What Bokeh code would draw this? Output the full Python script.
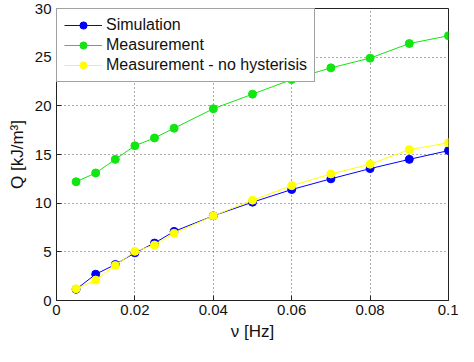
from bokeh.plotting import figure
from bokeh.models import Range1d, Legend, LegendItem, FixedTicker
from bokeh.embed import file_html
from bokeh.resources import INLINE

# ---- data ----
freq = [0.005, 0.01, 0.015, 0.02, 0.025, 0.03, 0.04, 0.05, 0.06, 0.07, 0.08, 0.09, 0.1]
simulation = [1.15, 2.7, 3.7, 4.9, 5.9, 7.1, 8.7, 10.1, 11.4, 12.5, 13.55, 14.5, 15.4]
measurement = [12.2, 13.1, 14.5, 15.9, 16.7, 17.7, 19.7, 21.2, 22.7, 23.9, 24.9, 26.4, 27.2]
measurement_no_hyst = [1.2, 2.1, 3.6, 5.05, 5.7, 6.9, 8.7, 10.3, 11.8, 13.0, 14.0, 15.5, 16.2]

series_names = ["Simulation", "Measurement", "Measurement - no hysterisis"]
series_colors = ["#0000ff", "#11e611", "#ffff00"]

x_ticks = [0, 0.02, 0.04, 0.06, 0.08, 0.1]
x_tick_labels = ["0", "0.02", "0.04", "0.06", "0.08", "0.1"]
y_ticks = [0, 5, 10, 15, 20, 25, 30]

FONT = "Liberation Sans"

p = figure(width=458, height=346, output_backend="svg", toolbar_location=None,
           x_range=Range1d(0, 0.1), y_range=Range1d(0, 30),
           min_border_left=56, min_border_right=10, min_border_top=8, min_border_bottom=46,
           background_fill_color="white", border_fill_color="white")

p.outline_line_color = "#222222"
p.outline_line_width = 1

# axes
for ax in (p.xaxis[0], p.yaxis[0]):
    ax.major_tick_in = 5
    ax.major_tick_out = 0
    ax.minor_tick_line_color = None
    ax.axis_line_color = "#222222"
    ax.major_tick_line_color = "#222222"
    ax.major_label_text_font = FONT
    ax.major_label_text_font_size = "15px"
    ax.major_label_text_color = "#111111"
    ax.axis_label_text_font = FONT
    ax.axis_label_text_font_size = "17px"
    ax.axis_label_text_font_style = "normal"
    ax.axis_label_text_color = "#111111"

p.xaxis.ticker = FixedTicker(ticks=x_ticks)
p.xaxis.major_label_overrides = {t: l for t, l in zip(x_ticks, x_tick_labels)}
p.yaxis.ticker = FixedTicker(ticks=y_ticks)
p.xaxis.axis_label = "ν [Hz]"
p.yaxis.axis_label = "Q [kJ/m³]"
p.xaxis.major_label_standoff = 4
p.xaxis.axis_label_standoff = 4
p.yaxis.major_label_standoff = 5
p.yaxis.axis_label_standoff = 5

# grid
for g in (p.xgrid[0], p.ygrid[0]):
    g.grid_line_color = "#222222"
    g.grid_line_alpha = 0.75
    g.grid_line_dash = "1 3"
    g.grid_line_width = 1
p.xgrid.ticker = FixedTicker(ticks=x_ticks)
p.ygrid.ticker = FixedTicker(ticks=y_ticks)

# series
all_values = [simulation, measurement, measurement_no_hyst]
items = []
for name, color, vals in zip(series_names, series_colors, all_values):
    r_line = p.line(freq, vals, line_color=color, line_width=1)
    r_pts = p.scatter(freq, vals, size=8, marker="circle", fill_color=color, line_color=color)
    items.append(LegendItem(label=name, renderers=[r_line, r_pts]))

legend = Legend(items=items, location="top_left", margin=0, padding=7, spacing=2,
                glyph_width=38, glyph_height=18, label_height=18, label_standoff=4,
                label_text_font=FONT, label_text_font_size="16px", label_text_color="#111111",
                border_line_color="#444444", border_line_width=1.5,
                background_fill_color="white", background_fill_alpha=1)
p.add_layout(legend, "center")

open("out.html", "w").write(file_html(p, INLINE))
